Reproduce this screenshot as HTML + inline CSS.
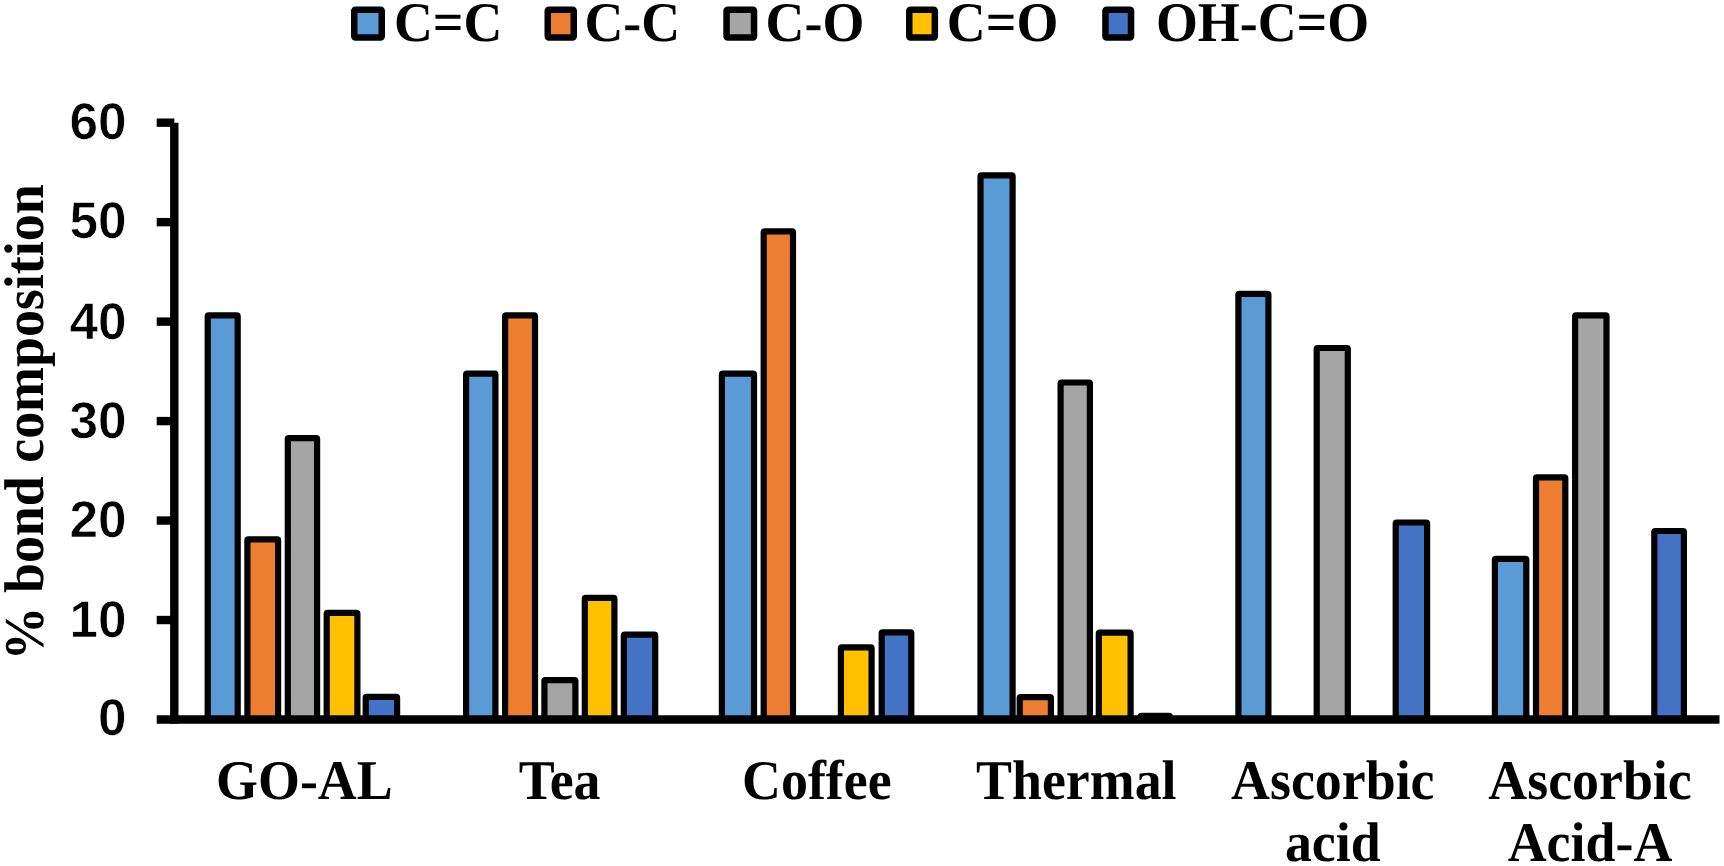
<!DOCTYPE html>
<html lang="en"><head><meta charset="utf-8"><title>% bond composition</title>
<style>html,body{margin:0;padding:0;background:#fff}body{width:1724px;height:866px;overflow:hidden}svg{display:block}.s{font-family:"Liberation Serif","Times New Roman",serif;font-weight:bold;fill:#000;text-rendering:geometricPrecision}.n{font-family:"Liberation Sans",Arial,sans-serif;font-weight:bold;fill:#000;stroke:#fff;stroke-width:0.7px;text-rendering:geometricPrecision}</style></head><body>
<svg width="1724" height="866" viewBox="0 0 1724 866">
<rect width="1724" height="866" fill="#fff"/>
<g stroke="#000" stroke-width="6.20" stroke-linejoin="round">
<rect x="207.70" y="315.40" width="30.00" height="404.10" rx="1" fill="#5B9BD5"/>
<rect x="247.40" y="539.40" width="30.70" height="180.10" rx="1" fill="#ED7D31"/>
<rect x="287.80" y="438.10" width="29.30" height="281.40" rx="1" fill="#A5A5A5"/>
<rect x="326.70" y="612.90" width="30.70" height="106.60" rx="1" fill="#FFC000"/>
<rect x="365.70" y="696.80" width="31.40" height="22.70" rx="1" fill="#4472C4"/>
<rect x="466.10" y="373.70" width="29.30" height="345.80" rx="1" fill="#5B9BD5"/>
<rect x="505.10" y="315.30" width="29.90" height="404.20" rx="1" fill="#ED7D31"/>
<rect x="544.40" y="680.10" width="31.00" height="39.40" rx="1" fill="#A5A5A5"/>
<rect x="584.80" y="597.80" width="29.60" height="121.70" rx="1" fill="#FFC000"/>
<rect x="623.80" y="634.70" width="31.40" height="84.80" rx="1" fill="#4472C4"/>
<rect x="721.90" y="373.70" width="32.10" height="345.80" rx="1" fill="#5B9BD5"/>
<rect x="763.70" y="231.30" width="29.30" height="488.20" rx="1" fill="#ED7D31"/>
<rect x="840.90" y="647.40" width="30.70" height="72.10" rx="1" fill="#FFC000"/>
<rect x="881.70" y="632.30" width="29.60" height="87.20" rx="1" fill="#4472C4"/>
<rect x="980.50" y="175.30" width="32.10" height="544.20" rx="1" fill="#5B9BD5"/>
<rect x="1019.70" y="697.20" width="31.20" height="22.30" rx="1" fill="#ED7D31"/>
<rect x="1060.60" y="382.50" width="29.30" height="337.00" rx="1" fill="#A5A5A5"/>
<rect x="1098.80" y="632.70" width="31.80" height="86.80" rx="1" fill="#FFC000"/>
<rect x="1140.60" y="715.80" width="29.30" height="3.70" rx="1" fill="#4472C4"/>
<rect x="1238.40" y="293.80" width="30.00" height="425.70" rx="1" fill="#5B9BD5"/>
<rect x="1316.70" y="348.00" width="31.10" height="371.50" rx="1" fill="#A5A5A5"/>
<rect x="1395.70" y="522.50" width="31.40" height="197.00" rx="1" fill="#4472C4"/>
<rect x="1494.90" y="558.80" width="31.40" height="160.70" rx="1" fill="#5B9BD5"/>
<rect x="1536.00" y="477.30" width="29.30" height="242.20" rx="1" fill="#ED7D31"/>
<rect x="1575.10" y="315.40" width="31.40" height="404.10" rx="1" fill="#A5A5A5"/>
<rect x="1654.30" y="531.00" width="29.60" height="188.50" rx="1" fill="#4472C4"/>
</g>
<g stroke="#000" stroke-width="8.40" fill="none">
<line x1="174.30" y1="122.68" x2="174.30" y2="723.70"/>
<line x1="156.70" y1="719.50" x2="1719.50" y2="719.50"/>
<line x1="156.70" y1="620.03" x2="174.30" y2="620.03"/>
<line x1="156.70" y1="520.56" x2="174.30" y2="520.56"/>
<line x1="156.70" y1="421.09" x2="174.30" y2="421.09"/>
<line x1="156.70" y1="321.62" x2="174.30" y2="321.62"/>
<line x1="156.70" y1="222.15" x2="174.30" y2="222.15"/>
<line x1="156.70" y1="122.68" x2="174.30" y2="122.68"/>
</g>
<text class="n" transform="translate(126.6,735.40) scale(0.995,1)" font-size="51.6" text-anchor="end">0</text>
<text class="n" transform="translate(126.6,636.60) scale(0.995,1)" font-size="51.6" text-anchor="end">10</text>
<text class="n" transform="translate(126.6,537.10) scale(0.995,1)" font-size="51.6" text-anchor="end">20</text>
<text class="n" transform="translate(126.6,437.70) scale(0.995,1)" font-size="51.6" text-anchor="end">30</text>
<text class="n" transform="translate(126.6,338.90) scale(0.995,1)" font-size="51.6" text-anchor="end">40</text>
<text class="n" transform="translate(126.6,237.50) scale(0.995,1)" font-size="51.6" text-anchor="end">50</text>
<text class="n" transform="translate(126.6,138.75) scale(0.995,1)" font-size="51.6" text-anchor="end">60</text>
<text class="s" font-size="56.0" text-anchor="middle" transform="translate(43.3,422.4) rotate(-90) scale(0.9620,1.0000)">% bond composition</text>
<rect x="354.25" y="9.75" width="27.50" height="27.80" rx="1.2" fill="#5B9BD5" stroke="#000" stroke-width="6.50" stroke-linejoin="round"/>
<text class="s" font-size="56.0" transform="translate(393.90,41.0) scale(0.9620,1.0000)">C=C</text>
<rect x="547.75" y="9.75" width="26.00" height="27.80" rx="1.2" fill="#ED7D31" stroke="#000" stroke-width="6.50" stroke-linejoin="round"/>
<text class="s" font-size="56.0" transform="translate(584.40,41.0) scale(0.9620,1.0000)">C-C</text>
<rect x="726.55" y="9.75" width="27.50" height="27.80" rx="1.2" fill="#A5A5A5" stroke="#000" stroke-width="6.50" stroke-linejoin="round"/>
<text class="s" font-size="56.0" transform="translate(765.60,41.0) scale(0.9620,1.0000)">C-O</text>
<rect x="909.25" y="9.75" width="25.60" height="27.80" rx="1.2" fill="#FFC000" stroke="#000" stroke-width="6.50" stroke-linejoin="round"/>
<text class="s" font-size="56.0" transform="translate(946.80,41.0) scale(0.9620,1.0000)">C=O</text>
<rect x="1105.45" y="9.75" width="25.60" height="27.80" rx="1.2" fill="#4472C4" stroke="#000" stroke-width="6.50" stroke-linejoin="round"/>
<text class="s" font-size="56.0" transform="translate(1155.90,41.0) scale(0.9620,1.0000)">OH-C=O</text>
<text class="s" font-size="56.0" transform="translate(304.40,799.40) scale(0.9620,1.0000)" text-anchor="middle">GO-AL</text>
<text class="s" font-size="56.0" transform="translate(559.60,799.40) scale(0.9620,1.0000)" text-anchor="middle">Tea</text>
<text class="s" font-size="56.0" transform="translate(816.80,799.40) scale(0.9620,1.0000)" text-anchor="middle">Coffee</text>
<text class="s" font-size="56.0" transform="translate(1076.30,799.40) scale(0.9620,1.0000)" text-anchor="middle">Thermal</text>
<text class="s" font-size="56.0" transform="translate(1332.80,799.40) scale(0.9620,1.0000)" text-anchor="middle">Ascorbic</text>
<text class="s" font-size="56.0" transform="translate(1332.80,861.20) scale(0.9620,1.0000)" text-anchor="middle">acid</text>
<text class="s" font-size="56.0" transform="translate(1590.00,799.40) scale(0.9620,1.0000)" text-anchor="middle">Ascorbic</text>
<text class="s" font-size="56.0" transform="translate(1590.00,861.20) scale(0.9620,1.0000)" text-anchor="middle">Acid-A</text>
</svg></body></html>
